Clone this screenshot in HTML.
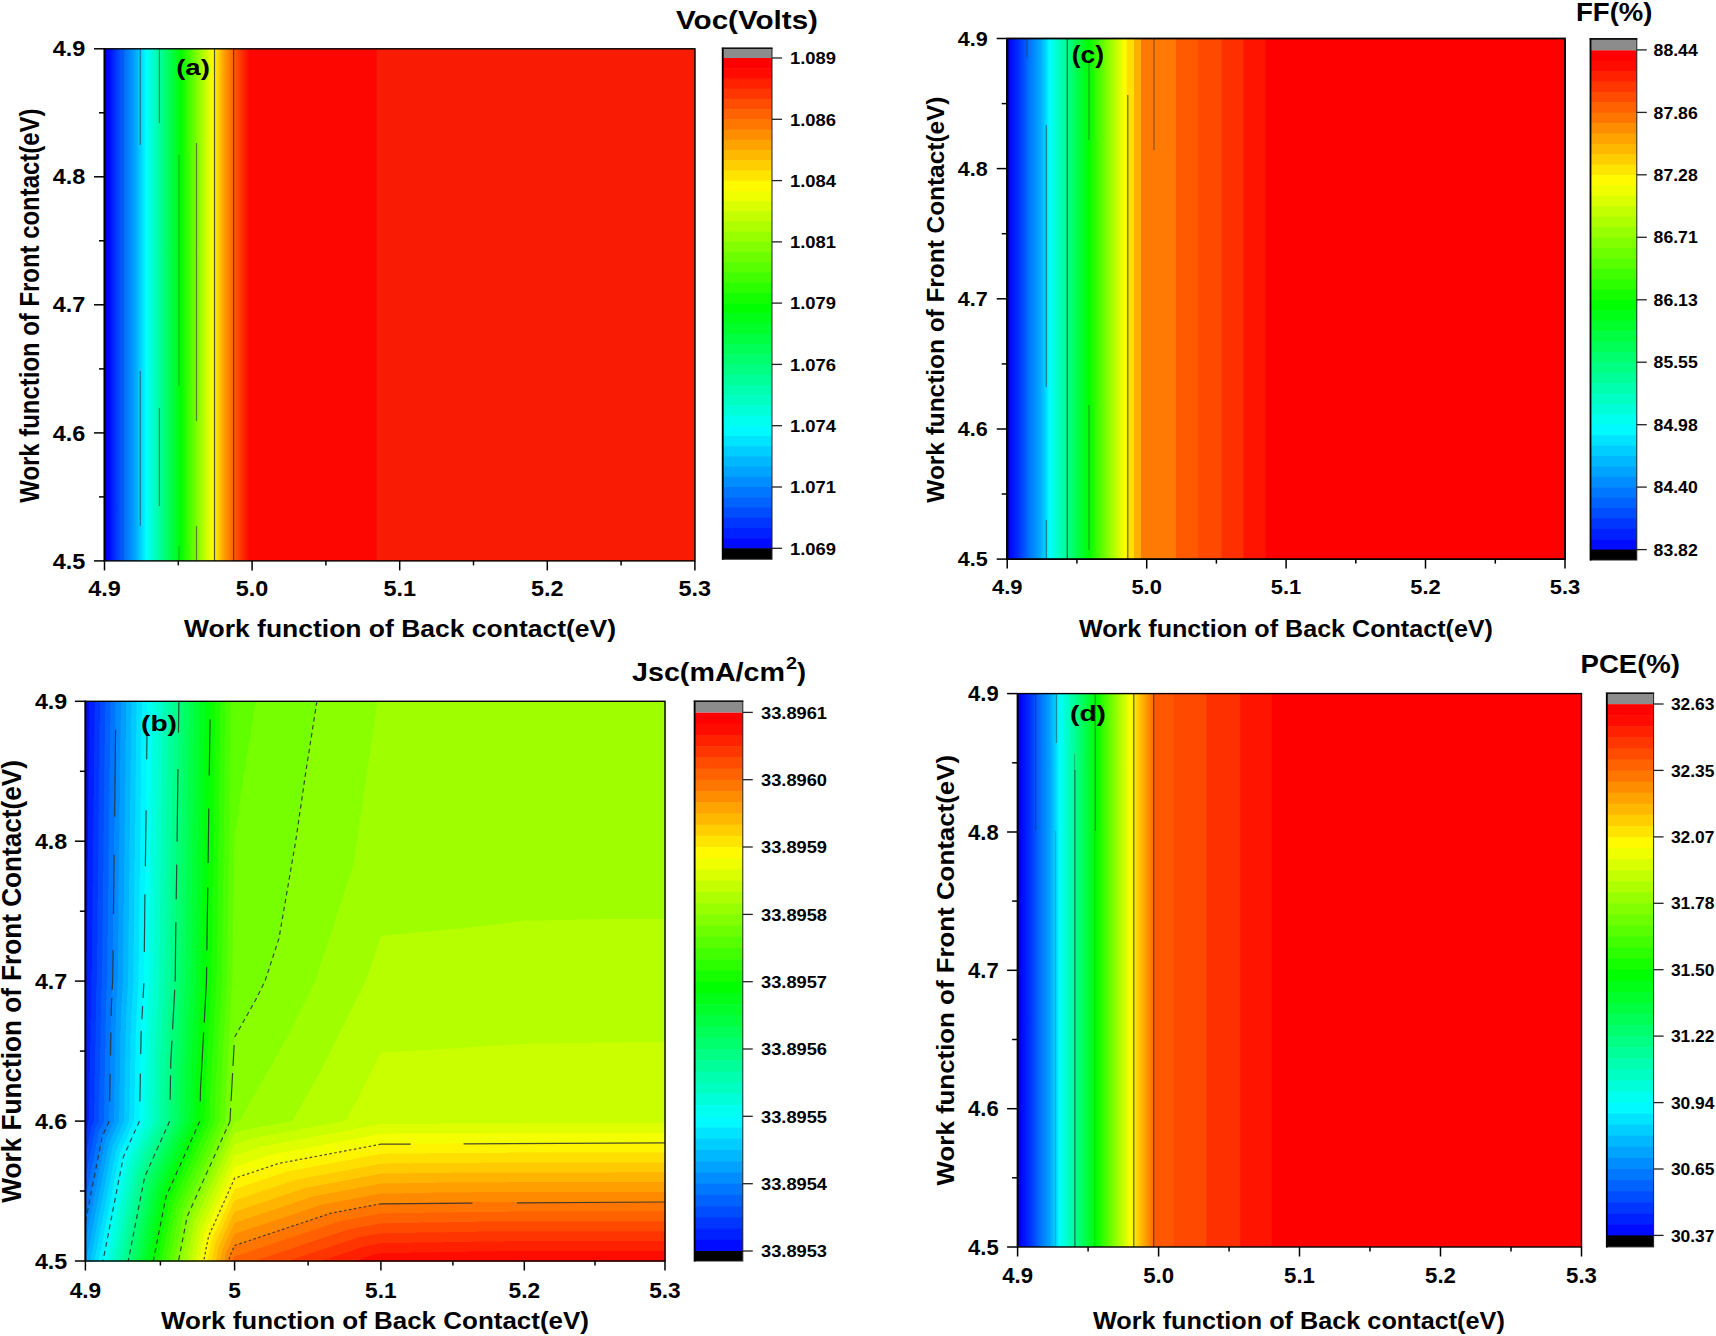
<!DOCTYPE html>
<html><head><meta charset="utf-8"><title>Contour plots</title>
<style>html,body{margin:0;padding:0;background:#fff;}svg{display:block}text{font-family:"Liberation Sans", Arial, Helvetica, sans-serif;}</style></head>
<body><svg width="1716" height="1336" viewBox="0 0 1716 1336">
<defs><linearGradient id="g1" gradientUnits="userSpaceOnUse" x1="104.5" y1="0" x2="694.9" y2="0"><stop offset="0.0000" stop-color="#0000f8"/><stop offset="0.0059" stop-color="#0000ff"/><stop offset="0.0178" stop-color="#0030ff"/><stop offset="0.0347" stop-color="#0070ff"/><stop offset="0.0517" stop-color="#00a4ff"/><stop offset="0.0635" stop-color="#00dcff"/><stop offset="0.0711" stop-color="#00ffff"/><stop offset="0.1296" stop-color="#00ff00"/><stop offset="0.1838" stop-color="#ffff00"/><stop offset="0.2024" stop-color="#ffa000"/><stop offset="0.2227" stop-color="#ff5000"/><stop offset="0.2414" stop-color="#fd1400"/><stop offset="0.2464" stop-color="#fd0500"/><stop offset="1.0000" stop-color="#fd0500"/></linearGradient><linearGradient id="g2" gradientUnits="userSpaceOnUse" x1="1007.2" y1="0" x2="1565.0" y2="0"><stop offset="0.0000" stop-color="#0000f8"/><stop offset="0.0032" stop-color="#0000ff"/><stop offset="0.0229" stop-color="#0038ff"/><stop offset="0.0409" stop-color="#0078ff"/><stop offset="0.0588" stop-color="#00a8ff"/><stop offset="0.0696" stop-color="#00d8ff"/><stop offset="0.0758" stop-color="#00ffff"/><stop offset="0.1466" stop-color="#00ff00"/><stop offset="0.2108" stop-color="#ffff00"/><stop offset="0.2148" stop-color="#fff000"/><stop offset="1.0000" stop-color="#ff0000"/></linearGradient><linearGradient id="g3" gradientUnits="userSpaceOnUse" x1="1017.6" y1="0" x2="1581.5" y2="0"><stop offset="0.0000" stop-color="#0000f8"/><stop offset="0.0041" stop-color="#0000ff"/><stop offset="0.0220" stop-color="#0030ff"/><stop offset="0.0397" stop-color="#0070ff"/><stop offset="0.0575" stop-color="#00a4ff"/><stop offset="0.0681" stop-color="#00d8ff"/><stop offset="0.0743" stop-color="#00ffff"/><stop offset="0.1394" stop-color="#00ff00"/><stop offset="0.2009" stop-color="#ffff00"/><stop offset="0.2307" stop-color="#ff9000"/><stop offset="0.2414" stop-color="#ff6a00"/><stop offset="1.0000" stop-color="#ff0000"/></linearGradient></defs>
<rect width="1716" height="1336" fill="#fff"/>
<rect x="104.5" y="48.8" width="590.4" height="512.1" fill="url(#g1)"/>
<rect x="376.6" y="48.8" width="318.8" height="512.1" fill="#f91b03"/>
<line x1="123.2" y1="48.8" x2="123.2" y2="560.9" stroke="#303840" stroke-width="1.2" stroke-opacity="0.22"/>
<line x1="140.3" y1="48.8" x2="140.3" y2="145.0" stroke="#303840" stroke-width="1.2" stroke-opacity="0.55"/>
<line x1="140.3" y1="371.0" x2="140.3" y2="526.0" stroke="#303840" stroke-width="1.2" stroke-opacity="0.55"/>
<line x1="159.4" y1="48.8" x2="159.4" y2="123.0" stroke="#303840" stroke-width="1.2" stroke-opacity="0.55"/>
<line x1="159.4" y1="408.0" x2="159.4" y2="506.0" stroke="#303840" stroke-width="1.2" stroke-opacity="0.55"/>
<line x1="179.0" y1="155.0" x2="179.0" y2="386.0" stroke="#303840" stroke-width="1.2" stroke-opacity="0.3"/>
<line x1="179.0" y1="546.0" x2="179.0" y2="560.9" stroke="#303840" stroke-width="1.2" stroke-opacity="0.3"/>
<line x1="196.5" y1="143.0" x2="196.5" y2="421.0" stroke="#303840" stroke-width="1.2" stroke-opacity="0.6"/>
<line x1="196.5" y1="526.0" x2="196.5" y2="560.9" stroke="#303840" stroke-width="1.2" stroke-opacity="0.6"/>
<line x1="214.5" y1="48.8" x2="214.5" y2="560.9" stroke="#303840" stroke-width="1.2" stroke-opacity="0.85"/>
<line x1="233.6" y1="48.8" x2="233.6" y2="560.9" stroke="#303840" stroke-width="1.2" stroke-opacity="0.85"/>
<rect x="104.5" y="48.8" width="590.4" height="512.1" fill="none" stroke="#000" stroke-width="1.4"/>
<line x1="104.5" y1="48.3" x2="104.5" y2="561.4" stroke="#000" stroke-width="1.7999999999999998"/>
<line x1="104.5" y1="560.9" x2="104.5" y2="570.4" stroke="#000" stroke-width="1.5"/>
<line x1="252.1" y1="560.9" x2="252.1" y2="570.4" stroke="#000" stroke-width="1.5"/>
<line x1="399.7" y1="560.9" x2="399.7" y2="570.4" stroke="#000" stroke-width="1.5"/>
<line x1="547.3" y1="560.9" x2="547.3" y2="570.4" stroke="#000" stroke-width="1.5"/>
<line x1="694.9" y1="560.9" x2="694.9" y2="570.4" stroke="#000" stroke-width="1.5"/>
<line x1="178.3" y1="560.9" x2="178.3" y2="565.4" stroke="#000" stroke-width="1.5"/>
<line x1="325.9" y1="560.9" x2="325.9" y2="565.4" stroke="#000" stroke-width="1.5"/>
<line x1="473.5" y1="560.9" x2="473.5" y2="565.4" stroke="#000" stroke-width="1.5"/>
<line x1="621.1" y1="560.9" x2="621.1" y2="565.4" stroke="#000" stroke-width="1.5"/>
<line x1="94.0" y1="560.9" x2="104.5" y2="560.9" stroke="#000" stroke-width="1.5"/>
<line x1="94.0" y1="432.9" x2="104.5" y2="432.9" stroke="#000" stroke-width="1.5"/>
<line x1="94.0" y1="304.8" x2="104.5" y2="304.8" stroke="#000" stroke-width="1.5"/>
<line x1="94.0" y1="176.8" x2="104.5" y2="176.8" stroke="#000" stroke-width="1.5"/>
<line x1="94.0" y1="48.8" x2="104.5" y2="48.8" stroke="#000" stroke-width="1.5"/>
<line x1="99.0" y1="496.9" x2="104.5" y2="496.9" stroke="#000" stroke-width="1.5"/>
<line x1="99.0" y1="368.9" x2="104.5" y2="368.9" stroke="#000" stroke-width="1.5"/>
<line x1="99.0" y1="240.8" x2="104.5" y2="240.8" stroke="#000" stroke-width="1.5"/>
<line x1="99.0" y1="112.8" x2="104.5" y2="112.8" stroke="#000" stroke-width="1.5"/>
<text x="88.2" y="595.5" font-size="22" font-weight="bold" textLength="32.5" lengthAdjust="spacingAndGlyphs" fill="#000">4.9</text>
<text x="235.8" y="595.5" font-size="22" font-weight="bold" textLength="32.5" lengthAdjust="spacingAndGlyphs" fill="#000">5.0</text>
<text x="383.4" y="595.5" font-size="22" font-weight="bold" textLength="32.5" lengthAdjust="spacingAndGlyphs" fill="#000">5.1</text>
<text x="531.0" y="595.5" font-size="22" font-weight="bold" textLength="32.5" lengthAdjust="spacingAndGlyphs" fill="#000">5.2</text>
<text x="678.6" y="595.5" font-size="22" font-weight="bold" textLength="32.5" lengthAdjust="spacingAndGlyphs" fill="#000">5.3</text>
<text x="52.8" y="568.5" font-size="22" font-weight="bold" textLength="32.6" lengthAdjust="spacingAndGlyphs" fill="#000">4.5</text>
<text x="52.8" y="440.5" font-size="22" font-weight="bold" textLength="32.6" lengthAdjust="spacingAndGlyphs" fill="#000">4.6</text>
<text x="52.8" y="312.4" font-size="22" font-weight="bold" textLength="32.6" lengthAdjust="spacingAndGlyphs" fill="#000">4.7</text>
<text x="52.8" y="184.4" font-size="22" font-weight="bold" textLength="32.6" lengthAdjust="spacingAndGlyphs" fill="#000">4.8</text>
<text x="52.8" y="56.4" font-size="22" font-weight="bold" textLength="32.6" lengthAdjust="spacingAndGlyphs" fill="#000">4.9</text>
<text x="184.0" y="636.5" font-size="23" font-weight="bold" textLength="432.0" lengthAdjust="spacingAndGlyphs" fill="#000">Work function of Back contact(eV)</text>
<text transform="translate(38.8,502.7) rotate(-90)" font-size="27" font-weight="bold" textLength="394.1" lengthAdjust="spacingAndGlyphs">Work function of Front contact(eV)</text>
<text x="176.2" y="75.0" font-size="22.5" font-weight="bold" textLength="33.6" lengthAdjust="spacingAndGlyphs" fill="#000">(a)</text>
<text x="676.0" y="29.2" font-size="26.4" font-weight="bold" textLength="142.0" lengthAdjust="spacingAndGlyphs" fill="#000">Voc(Volts)</text>
<rect x="722.7" y="58.00" width="49.3" height="10.81" fill="#ff0000"/>
<rect x="722.7" y="68.21" width="49.3" height="10.81" fill="#ff0b00"/>
<rect x="722.7" y="78.43" width="49.3" height="10.81" fill="#ff2100"/>
<rect x="722.7" y="88.64" width="49.3" height="10.81" fill="#ff3600"/>
<rect x="722.7" y="98.86" width="49.3" height="10.81" fill="#ff4c00"/>
<rect x="722.7" y="109.07" width="49.3" height="10.81" fill="#ff6200"/>
<rect x="722.7" y="119.29" width="49.3" height="10.81" fill="#ff7700"/>
<rect x="722.7" y="129.50" width="49.3" height="10.81" fill="#ff8d00"/>
<rect x="722.7" y="139.72" width="49.3" height="10.81" fill="#ffa300"/>
<rect x="722.7" y="149.93" width="49.3" height="10.81" fill="#ffb800"/>
<rect x="722.7" y="160.15" width="49.3" height="10.81" fill="#ffce00"/>
<rect x="722.7" y="170.36" width="49.3" height="10.81" fill="#ffe400"/>
<rect x="722.7" y="180.57" width="49.3" height="10.81" fill="#fffa00"/>
<rect x="722.7" y="190.79" width="49.3" height="10.81" fill="#efff00"/>
<rect x="722.7" y="201.00" width="49.3" height="10.81" fill="#d9ff00"/>
<rect x="722.7" y="211.22" width="49.3" height="10.81" fill="#c3ff00"/>
<rect x="722.7" y="221.43" width="49.3" height="10.81" fill="#aeff00"/>
<rect x="722.7" y="231.65" width="49.3" height="10.81" fill="#98ff00"/>
<rect x="722.7" y="241.86" width="49.3" height="10.81" fill="#82ff00"/>
<rect x="722.7" y="252.08" width="49.3" height="10.81" fill="#6dff00"/>
<rect x="722.7" y="262.29" width="49.3" height="10.81" fill="#57ff00"/>
<rect x="722.7" y="272.51" width="49.3" height="10.81" fill="#41ff00"/>
<rect x="722.7" y="282.72" width="49.3" height="10.81" fill="#2bff00"/>
<rect x="722.7" y="292.94" width="49.3" height="10.81" fill="#16ff00"/>
<rect x="722.7" y="303.15" width="49.3" height="10.81" fill="#00ff00"/>
<rect x="722.7" y="313.36" width="49.3" height="10.81" fill="#00ff16"/>
<rect x="722.7" y="323.58" width="49.3" height="10.81" fill="#00ff2b"/>
<rect x="722.7" y="333.79" width="49.3" height="10.81" fill="#00ff41"/>
<rect x="722.7" y="344.01" width="49.3" height="10.81" fill="#00ff57"/>
<rect x="722.7" y="354.22" width="49.3" height="10.81" fill="#00ff6d"/>
<rect x="722.7" y="364.44" width="49.3" height="10.81" fill="#00ff82"/>
<rect x="722.7" y="374.65" width="49.3" height="10.81" fill="#00ff98"/>
<rect x="722.7" y="384.87" width="49.3" height="10.81" fill="#00ffae"/>
<rect x="722.7" y="395.08" width="49.3" height="10.81" fill="#00ffc3"/>
<rect x="722.7" y="405.30" width="49.3" height="10.81" fill="#00ffd9"/>
<rect x="722.7" y="415.51" width="49.3" height="10.81" fill="#00ffef"/>
<rect x="722.7" y="425.72" width="49.3" height="10.81" fill="#00faff"/>
<rect x="722.7" y="435.94" width="49.3" height="10.81" fill="#00e4ff"/>
<rect x="722.7" y="446.15" width="49.3" height="10.81" fill="#00ceff"/>
<rect x="722.7" y="456.37" width="49.3" height="10.81" fill="#00b8ff"/>
<rect x="722.7" y="466.58" width="49.3" height="10.81" fill="#00a3ff"/>
<rect x="722.7" y="476.80" width="49.3" height="10.81" fill="#008dff"/>
<rect x="722.7" y="487.01" width="49.3" height="10.81" fill="#0077ff"/>
<rect x="722.7" y="497.23" width="49.3" height="10.81" fill="#0062ff"/>
<rect x="722.7" y="507.44" width="49.3" height="10.81" fill="#004cff"/>
<rect x="722.7" y="517.66" width="49.3" height="10.81" fill="#0036ff"/>
<rect x="722.7" y="527.87" width="49.3" height="10.81" fill="#0021ff"/>
<rect x="722.7" y="538.09" width="49.3" height="10.81" fill="#000bff"/>
<rect x="722.7" y="48.3" width="49.3" height="9.7" fill="#8c8c8c"/>
<rect x="722.7" y="548.3" width="49.3" height="10.9" fill="#000"/>
<rect x="722.7" y="48.3" width="49.3" height="510.9" fill="none" stroke="#222" stroke-width="1"/>
<line x1="722.7" y1="47.8" x2="722.7" y2="559.7" stroke="#000" stroke-width="1.8"/>
<line x1="721.8" y1="48.3" x2="772.5" y2="48.3" stroke="#111" stroke-width="1.6"/>
<line x1="772.0" y1="58.0" x2="782.0" y2="58.0" stroke="#222" stroke-width="1.3"/>
<text x="790.0" y="64.3" font-size="16.5" font-weight="bold" textLength="46.0" lengthAdjust="spacingAndGlyphs" fill="#000">1.089</text>
<line x1="772.0" y1="119.3" x2="782.0" y2="119.3" stroke="#222" stroke-width="1.3"/>
<text x="790.0" y="125.6" font-size="16.5" font-weight="bold" textLength="46.0" lengthAdjust="spacingAndGlyphs" fill="#000">1.086</text>
<line x1="772.0" y1="180.6" x2="782.0" y2="180.6" stroke="#222" stroke-width="1.3"/>
<text x="790.0" y="186.9" font-size="16.5" font-weight="bold" textLength="46.0" lengthAdjust="spacingAndGlyphs" fill="#000">1.084</text>
<line x1="772.0" y1="241.9" x2="782.0" y2="241.9" stroke="#222" stroke-width="1.3"/>
<text x="790.0" y="248.2" font-size="16.5" font-weight="bold" textLength="46.0" lengthAdjust="spacingAndGlyphs" fill="#000">1.081</text>
<line x1="772.0" y1="303.1" x2="782.0" y2="303.1" stroke="#222" stroke-width="1.3"/>
<text x="790.0" y="309.4" font-size="16.5" font-weight="bold" textLength="46.0" lengthAdjust="spacingAndGlyphs" fill="#000">1.079</text>
<line x1="772.0" y1="364.4" x2="782.0" y2="364.4" stroke="#222" stroke-width="1.3"/>
<text x="790.0" y="370.7" font-size="16.5" font-weight="bold" textLength="46.0" lengthAdjust="spacingAndGlyphs" fill="#000">1.076</text>
<line x1="772.0" y1="425.7" x2="782.0" y2="425.7" stroke="#222" stroke-width="1.3"/>
<text x="790.0" y="432.0" font-size="16.5" font-weight="bold" textLength="46.0" lengthAdjust="spacingAndGlyphs" fill="#000">1.074</text>
<line x1="772.0" y1="487.0" x2="782.0" y2="487.0" stroke="#222" stroke-width="1.3"/>
<text x="790.0" y="493.3" font-size="16.5" font-weight="bold" textLength="46.0" lengthAdjust="spacingAndGlyphs" fill="#000">1.071</text>
<line x1="772.0" y1="548.3" x2="782.0" y2="548.3" stroke="#222" stroke-width="1.3"/>
<text x="790.0" y="554.6" font-size="16.5" font-weight="bold" textLength="46.0" lengthAdjust="spacingAndGlyphs" fill="#000">1.069</text>
<rect x="1007.2" y="38.5" width="557.8" height="520.6" fill="url(#g2)"/>
<rect x="1127.0" y="38.5" width="7.5" height="520.6" fill="#ffe000"/>
<rect x="1134.0" y="38.5" width="7.5" height="520.6" fill="#ffb000"/>
<rect x="1141.0" y="38.5" width="35.5" height="520.6" fill="#ff7a05"/>
<rect x="1176.0" y="38.5" width="22.5" height="520.6" fill="#ff5a00"/>
<rect x="1198.0" y="38.5" width="23.9" height="520.6" fill="#ff4800"/>
<rect x="1221.4" y="38.5" width="22.6" height="520.6" fill="#ff3000"/>
<rect x="1243.5" y="38.5" width="22.7" height="520.6" fill="#ff1400"/>
<rect x="1265.7" y="38.5" width="299.8" height="520.6" fill="#fe0000"/>
<line x1="1027.0" y1="38.5" x2="1027.0" y2="57.0" stroke="#303840" stroke-width="1.2" stroke-opacity="0.5"/>
<line x1="1046.3" y1="125.0" x2="1046.3" y2="387.0" stroke="#303840" stroke-width="1.2" stroke-opacity="0.6"/>
<line x1="1046.3" y1="520.0" x2="1046.3" y2="559.1" stroke="#303840" stroke-width="1.2" stroke-opacity="0.6"/>
<line x1="1067.3" y1="38.5" x2="1067.3" y2="559.1" stroke="#303840" stroke-width="1.2" stroke-opacity="0.8"/>
<line x1="1089.0" y1="60.0" x2="1089.0" y2="140.0" stroke="#303840" stroke-width="1.2" stroke-opacity="0.4"/>
<line x1="1089.0" y1="405.0" x2="1089.0" y2="550.0" stroke="#303840" stroke-width="1.2" stroke-opacity="0.4"/>
<line x1="1127.8" y1="95.0" x2="1127.8" y2="559.1" stroke="#303840" stroke-width="1.2" stroke-opacity="0.7"/>
<line x1="1154.0" y1="38.5" x2="1154.0" y2="150.0" stroke="#303840" stroke-width="1.2" stroke-opacity="0.6"/>
<rect x="1007.2" y="38.5" width="557.8" height="520.6" fill="none" stroke="#000" stroke-width="1.8"/>
<line x1="1007.2" y1="38.0" x2="1007.2" y2="559.6" stroke="#000" stroke-width="2.2"/>
<line x1="1007.2" y1="559.1" x2="1007.2" y2="568.6" stroke="#000" stroke-width="1.5"/>
<line x1="1146.7" y1="559.1" x2="1146.7" y2="568.6" stroke="#000" stroke-width="1.5"/>
<line x1="1286.1" y1="559.1" x2="1286.1" y2="568.6" stroke="#000" stroke-width="1.5"/>
<line x1="1425.5" y1="559.1" x2="1425.5" y2="568.6" stroke="#000" stroke-width="1.5"/>
<line x1="1565.0" y1="559.1" x2="1565.0" y2="568.6" stroke="#000" stroke-width="1.5"/>
<line x1="1076.9" y1="559.1" x2="1076.9" y2="563.6" stroke="#000" stroke-width="1.5"/>
<line x1="1216.4" y1="559.1" x2="1216.4" y2="563.6" stroke="#000" stroke-width="1.5"/>
<line x1="1355.8" y1="559.1" x2="1355.8" y2="563.6" stroke="#000" stroke-width="1.5"/>
<line x1="1495.3" y1="559.1" x2="1495.3" y2="563.6" stroke="#000" stroke-width="1.5"/>
<line x1="996.7" y1="559.1" x2="1007.2" y2="559.1" stroke="#000" stroke-width="1.5"/>
<line x1="996.7" y1="429.0" x2="1007.2" y2="429.0" stroke="#000" stroke-width="1.5"/>
<line x1="996.7" y1="298.8" x2="1007.2" y2="298.8" stroke="#000" stroke-width="1.5"/>
<line x1="996.7" y1="168.6" x2="1007.2" y2="168.6" stroke="#000" stroke-width="1.5"/>
<line x1="996.7" y1="38.5" x2="1007.2" y2="38.5" stroke="#000" stroke-width="1.5"/>
<line x1="1001.7" y1="494.0" x2="1007.2" y2="494.0" stroke="#000" stroke-width="1.5"/>
<line x1="1001.7" y1="363.9" x2="1007.2" y2="363.9" stroke="#000" stroke-width="1.5"/>
<line x1="1001.7" y1="233.7" x2="1007.2" y2="233.7" stroke="#000" stroke-width="1.5"/>
<line x1="1001.7" y1="103.6" x2="1007.2" y2="103.6" stroke="#000" stroke-width="1.5"/>
<text x="992.0" y="594.0" font-size="21" font-weight="bold" textLength="30.5" lengthAdjust="spacingAndGlyphs" fill="#000">4.9</text>
<text x="1131.4" y="594.0" font-size="21" font-weight="bold" textLength="30.5" lengthAdjust="spacingAndGlyphs" fill="#000">5.0</text>
<text x="1270.8" y="594.0" font-size="21" font-weight="bold" textLength="30.5" lengthAdjust="spacingAndGlyphs" fill="#000">5.1</text>
<text x="1410.3" y="594.0" font-size="21" font-weight="bold" textLength="30.5" lengthAdjust="spacingAndGlyphs" fill="#000">5.2</text>
<text x="1549.8" y="594.0" font-size="21" font-weight="bold" textLength="30.5" lengthAdjust="spacingAndGlyphs" fill="#000">5.3</text>
<text x="957.8" y="566.4" font-size="21" font-weight="bold" textLength="30.0" lengthAdjust="spacingAndGlyphs" fill="#000">4.5</text>
<text x="957.8" y="436.3" font-size="21" font-weight="bold" textLength="30.0" lengthAdjust="spacingAndGlyphs" fill="#000">4.6</text>
<text x="957.8" y="306.1" font-size="21" font-weight="bold" textLength="30.0" lengthAdjust="spacingAndGlyphs" fill="#000">4.7</text>
<text x="957.8" y="175.9" font-size="21" font-weight="bold" textLength="30.0" lengthAdjust="spacingAndGlyphs" fill="#000">4.8</text>
<text x="957.8" y="45.8" font-size="21" font-weight="bold" textLength="30.0" lengthAdjust="spacingAndGlyphs" fill="#000">4.9</text>
<text x="1079.0" y="637.0" font-size="23" font-weight="bold" textLength="414.0" lengthAdjust="spacingAndGlyphs" fill="#000">Work function of Back Contact(eV)</text>
<text transform="translate(943.8,502.7) rotate(-90)" font-size="24.3" font-weight="bold" textLength="406.2" lengthAdjust="spacingAndGlyphs">Work function of Front Contact(eV)</text>
<text x="1071.8" y="63.3" font-size="23" font-weight="bold" textLength="32.2" lengthAdjust="spacingAndGlyphs" fill="#000">(c)</text>
<text x="1576.0" y="20.7" font-size="26" font-weight="bold" textLength="76.5" lengthAdjust="spacingAndGlyphs" fill="#000">FF(%)</text>
<rect x="1590.5" y="50.20" width="46.3" height="11.00" fill="#ff0000"/>
<rect x="1590.5" y="60.60" width="46.3" height="11.00" fill="#ff0b00"/>
<rect x="1590.5" y="71.01" width="46.3" height="11.00" fill="#ff2100"/>
<rect x="1590.5" y="81.41" width="46.3" height="11.00" fill="#ff3600"/>
<rect x="1590.5" y="91.82" width="46.3" height="11.00" fill="#ff4c00"/>
<rect x="1590.5" y="102.22" width="46.3" height="11.00" fill="#ff6200"/>
<rect x="1590.5" y="112.62" width="46.3" height="11.00" fill="#ff7700"/>
<rect x="1590.5" y="123.03" width="46.3" height="11.00" fill="#ff8d00"/>
<rect x="1590.5" y="133.43" width="46.3" height="11.00" fill="#ffa300"/>
<rect x="1590.5" y="143.84" width="46.3" height="11.00" fill="#ffb800"/>
<rect x="1590.5" y="154.24" width="46.3" height="11.00" fill="#ffce00"/>
<rect x="1590.5" y="164.65" width="46.3" height="11.00" fill="#ffe400"/>
<rect x="1590.5" y="175.05" width="46.3" height="11.00" fill="#fffa00"/>
<rect x="1590.5" y="185.45" width="46.3" height="11.00" fill="#efff00"/>
<rect x="1590.5" y="195.86" width="46.3" height="11.00" fill="#d9ff00"/>
<rect x="1590.5" y="206.26" width="46.3" height="11.00" fill="#c3ff00"/>
<rect x="1590.5" y="216.67" width="46.3" height="11.00" fill="#aeff00"/>
<rect x="1590.5" y="227.07" width="46.3" height="11.00" fill="#98ff00"/>
<rect x="1590.5" y="237.48" width="46.3" height="11.00" fill="#82ff00"/>
<rect x="1590.5" y="247.88" width="46.3" height="11.00" fill="#6dff00"/>
<rect x="1590.5" y="258.28" width="46.3" height="11.00" fill="#57ff00"/>
<rect x="1590.5" y="268.69" width="46.3" height="11.00" fill="#41ff00"/>
<rect x="1590.5" y="279.09" width="46.3" height="11.00" fill="#2bff00"/>
<rect x="1590.5" y="289.50" width="46.3" height="11.00" fill="#16ff00"/>
<rect x="1590.5" y="299.90" width="46.3" height="11.00" fill="#00ff00"/>
<rect x="1590.5" y="310.30" width="46.3" height="11.00" fill="#00ff16"/>
<rect x="1590.5" y="320.71" width="46.3" height="11.00" fill="#00ff2b"/>
<rect x="1590.5" y="331.11" width="46.3" height="11.00" fill="#00ff41"/>
<rect x="1590.5" y="341.52" width="46.3" height="11.00" fill="#00ff57"/>
<rect x="1590.5" y="351.92" width="46.3" height="11.00" fill="#00ff6d"/>
<rect x="1590.5" y="362.32" width="46.3" height="11.00" fill="#00ff82"/>
<rect x="1590.5" y="372.73" width="46.3" height="11.00" fill="#00ff98"/>
<rect x="1590.5" y="383.13" width="46.3" height="11.00" fill="#00ffae"/>
<rect x="1590.5" y="393.54" width="46.3" height="11.00" fill="#00ffc3"/>
<rect x="1590.5" y="403.94" width="46.3" height="11.00" fill="#00ffd9"/>
<rect x="1590.5" y="414.35" width="46.3" height="11.00" fill="#00ffef"/>
<rect x="1590.5" y="424.75" width="46.3" height="11.00" fill="#00faff"/>
<rect x="1590.5" y="435.15" width="46.3" height="11.00" fill="#00e4ff"/>
<rect x="1590.5" y="445.56" width="46.3" height="11.00" fill="#00ceff"/>
<rect x="1590.5" y="455.96" width="46.3" height="11.00" fill="#00b8ff"/>
<rect x="1590.5" y="466.37" width="46.3" height="11.00" fill="#00a3ff"/>
<rect x="1590.5" y="476.77" width="46.3" height="11.00" fill="#008dff"/>
<rect x="1590.5" y="487.18" width="46.3" height="11.00" fill="#0077ff"/>
<rect x="1590.5" y="497.58" width="46.3" height="11.00" fill="#0062ff"/>
<rect x="1590.5" y="507.98" width="46.3" height="11.00" fill="#004cff"/>
<rect x="1590.5" y="518.39" width="46.3" height="11.00" fill="#0036ff"/>
<rect x="1590.5" y="528.79" width="46.3" height="11.00" fill="#0021ff"/>
<rect x="1590.5" y="539.20" width="46.3" height="11.00" fill="#000bff"/>
<rect x="1590.5" y="38.9" width="46.3" height="11.3" fill="#8c8c8c"/>
<rect x="1590.5" y="549.6" width="46.3" height="10.4" fill="#000"/>
<rect x="1590.5" y="38.9" width="46.3" height="521.1" fill="none" stroke="#222" stroke-width="1"/>
<line x1="1590.5" y1="38.4" x2="1590.5" y2="560.5" stroke="#000" stroke-width="1.8"/>
<line x1="1589.6" y1="38.9" x2="1637.3" y2="38.9" stroke="#111" stroke-width="1.6"/>
<line x1="1636.8" y1="49.9" x2="1646.8" y2="49.9" stroke="#222" stroke-width="1.3"/>
<text x="1653.6" y="56.0" font-size="16.7" font-weight="bold" textLength="44.1" lengthAdjust="spacingAndGlyphs" fill="#000">88.44</text>
<line x1="1636.8" y1="112.4" x2="1646.8" y2="112.4" stroke="#222" stroke-width="1.3"/>
<text x="1653.6" y="118.5" font-size="16.7" font-weight="bold" textLength="44.1" lengthAdjust="spacingAndGlyphs" fill="#000">87.86</text>
<line x1="1636.8" y1="174.8" x2="1646.8" y2="174.8" stroke="#222" stroke-width="1.3"/>
<text x="1653.6" y="180.9" font-size="16.7" font-weight="bold" textLength="44.1" lengthAdjust="spacingAndGlyphs" fill="#000">87.28</text>
<line x1="1636.8" y1="237.3" x2="1646.8" y2="237.3" stroke="#222" stroke-width="1.3"/>
<text x="1653.6" y="243.4" font-size="16.7" font-weight="bold" textLength="44.1" lengthAdjust="spacingAndGlyphs" fill="#000">86.71</text>
<line x1="1636.8" y1="299.8" x2="1646.8" y2="299.8" stroke="#222" stroke-width="1.3"/>
<text x="1653.6" y="305.9" font-size="16.7" font-weight="bold" textLength="44.1" lengthAdjust="spacingAndGlyphs" fill="#000">86.13</text>
<line x1="1636.8" y1="362.2" x2="1646.8" y2="362.2" stroke="#222" stroke-width="1.3"/>
<text x="1653.6" y="368.3" font-size="16.7" font-weight="bold" textLength="44.1" lengthAdjust="spacingAndGlyphs" fill="#000">85.55</text>
<line x1="1636.8" y1="424.7" x2="1646.8" y2="424.7" stroke="#222" stroke-width="1.3"/>
<text x="1653.6" y="430.8" font-size="16.7" font-weight="bold" textLength="44.1" lengthAdjust="spacingAndGlyphs" fill="#000">84.98</text>
<line x1="1636.8" y1="487.1" x2="1646.8" y2="487.1" stroke="#222" stroke-width="1.3"/>
<text x="1653.6" y="493.2" font-size="16.7" font-weight="bold" textLength="44.1" lengthAdjust="spacingAndGlyphs" fill="#000">84.40</text>
<line x1="1636.8" y1="549.6" x2="1646.8" y2="549.6" stroke="#222" stroke-width="1.3"/>
<text x="1653.6" y="555.7" font-size="16.7" font-weight="bold" textLength="44.1" lengthAdjust="spacingAndGlyphs" fill="#000">83.82</text>
<rect x="1017.6" y="693.6" width="563.9" height="553.4" fill="url(#g3)"/>
<rect x="1153.8" y="693.6" width="20.5" height="553.4" fill="#ff5800"/>
<rect x="1173.8" y="693.6" width="33.1" height="553.4" fill="#ff4800"/>
<rect x="1206.4" y="693.6" width="34.3" height="553.4" fill="#ff3000"/>
<rect x="1240.2" y="693.6" width="32.0" height="553.4" fill="#ff1400"/>
<rect x="1271.7" y="693.6" width="310.3" height="553.4" fill="#fe0000"/>
<line x1="1035.6" y1="693.6" x2="1035.6" y2="831.0" stroke="#303840" stroke-width="1.2" stroke-opacity="0.6"/>
<line x1="1056.4" y1="693.6" x2="1056.4" y2="743.0" stroke="#303840" stroke-width="1.2" stroke-opacity="0.5"/>
<line x1="1074.9" y1="770.0" x2="1074.9" y2="1247.0" stroke="#303840" stroke-width="1.2" stroke-opacity="0.8"/>
<line x1="1095.2" y1="693.6" x2="1095.2" y2="831.0" stroke="#303840" stroke-width="1.2" stroke-opacity="0.5"/>
<line x1="1055.5" y1="831.0" x2="1055.5" y2="1247.0" stroke="#303840" stroke-width="1.2" stroke-opacity="0.2"/>
<line x1="1094.8" y1="831.0" x2="1094.8" y2="1247.0" stroke="#303840" stroke-width="1.2" stroke-opacity="0.2"/>
<line x1="1074.6" y1="754.0" x2="1074.6" y2="771.0" stroke="#303840" stroke-width="1.2" stroke-opacity="0.3"/>
<line x1="1133.8" y1="693.6" x2="1133.8" y2="1247.0" stroke="#303840" stroke-width="1.2" stroke-opacity="0.8"/>
<line x1="1153.7" y1="693.6" x2="1153.7" y2="1247.0" stroke="#303840" stroke-width="1.2" stroke-opacity="0.8"/>
<rect x="1017.6" y="693.6" width="563.9" height="553.4" fill="none" stroke="#000" stroke-width="1.4"/>
<line x1="1017.6" y1="693.1" x2="1017.6" y2="1247.5" stroke="#000" stroke-width="1.7999999999999998"/>
<line x1="1017.6" y1="1247.0" x2="1017.6" y2="1256.5" stroke="#000" stroke-width="1.5"/>
<line x1="1158.6" y1="1247.0" x2="1158.6" y2="1256.5" stroke="#000" stroke-width="1.5"/>
<line x1="1299.5" y1="1247.0" x2="1299.5" y2="1256.5" stroke="#000" stroke-width="1.5"/>
<line x1="1440.5" y1="1247.0" x2="1440.5" y2="1256.5" stroke="#000" stroke-width="1.5"/>
<line x1="1581.5" y1="1247.0" x2="1581.5" y2="1256.5" stroke="#000" stroke-width="1.5"/>
<line x1="1088.1" y1="1247.0" x2="1088.1" y2="1251.5" stroke="#000" stroke-width="1.5"/>
<line x1="1229.1" y1="1247.0" x2="1229.1" y2="1251.5" stroke="#000" stroke-width="1.5"/>
<line x1="1370.0" y1="1247.0" x2="1370.0" y2="1251.5" stroke="#000" stroke-width="1.5"/>
<line x1="1511.0" y1="1247.0" x2="1511.0" y2="1251.5" stroke="#000" stroke-width="1.5"/>
<line x1="1007.1" y1="1247.0" x2="1017.6" y2="1247.0" stroke="#000" stroke-width="1.5"/>
<line x1="1007.1" y1="1108.7" x2="1017.6" y2="1108.7" stroke="#000" stroke-width="1.5"/>
<line x1="1007.1" y1="970.3" x2="1017.6" y2="970.3" stroke="#000" stroke-width="1.5"/>
<line x1="1007.1" y1="832.0" x2="1017.6" y2="832.0" stroke="#000" stroke-width="1.5"/>
<line x1="1007.1" y1="693.6" x2="1017.6" y2="693.6" stroke="#000" stroke-width="1.5"/>
<line x1="1012.1" y1="1177.8" x2="1017.6" y2="1177.8" stroke="#000" stroke-width="1.5"/>
<line x1="1012.1" y1="1039.5" x2="1017.6" y2="1039.5" stroke="#000" stroke-width="1.5"/>
<line x1="1012.1" y1="901.1" x2="1017.6" y2="901.1" stroke="#000" stroke-width="1.5"/>
<line x1="1012.1" y1="762.8" x2="1017.6" y2="762.8" stroke="#000" stroke-width="1.5"/>
<text x="1002.2" y="1282.6" font-size="21.7" font-weight="bold" textLength="30.8" lengthAdjust="spacingAndGlyphs" fill="#000">4.9</text>
<text x="1143.2" y="1282.6" font-size="21.7" font-weight="bold" textLength="30.8" lengthAdjust="spacingAndGlyphs" fill="#000">5.0</text>
<text x="1284.1" y="1282.6" font-size="21.7" font-weight="bold" textLength="30.8" lengthAdjust="spacingAndGlyphs" fill="#000">5.1</text>
<text x="1425.1" y="1282.6" font-size="21.7" font-weight="bold" textLength="30.8" lengthAdjust="spacingAndGlyphs" fill="#000">5.2</text>
<text x="1566.1" y="1282.6" font-size="21.7" font-weight="bold" textLength="30.8" lengthAdjust="spacingAndGlyphs" fill="#000">5.3</text>
<text x="968.1" y="1254.5" font-size="21.7" font-weight="bold" textLength="30.6" lengthAdjust="spacingAndGlyphs" fill="#000">4.5</text>
<text x="968.1" y="1116.2" font-size="21.7" font-weight="bold" textLength="30.6" lengthAdjust="spacingAndGlyphs" fill="#000">4.6</text>
<text x="968.1" y="977.8" font-size="21.7" font-weight="bold" textLength="30.6" lengthAdjust="spacingAndGlyphs" fill="#000">4.7</text>
<text x="968.1" y="839.5" font-size="21.7" font-weight="bold" textLength="30.6" lengthAdjust="spacingAndGlyphs" fill="#000">4.8</text>
<text x="968.1" y="701.1" font-size="21.7" font-weight="bold" textLength="30.6" lengthAdjust="spacingAndGlyphs" fill="#000">4.9</text>
<text x="1093.0" y="1328.5" font-size="23" font-weight="bold" textLength="411.8" lengthAdjust="spacingAndGlyphs" fill="#000">Work function of Back contact(eV)</text>
<text transform="translate(953.6,1185.4) rotate(-90)" font-size="24.7" font-weight="bold" textLength="430.4" lengthAdjust="spacingAndGlyphs">Work function of Front Contact(eV)</text>
<text x="1070.0" y="721.0" font-size="22" font-weight="bold" textLength="36.0" lengthAdjust="spacingAndGlyphs" fill="#000">(d)</text>
<text x="1580.5" y="672.7" font-size="26.2" font-weight="bold" textLength="99.5" lengthAdjust="spacingAndGlyphs" fill="#000">PCE(%)</text>
<rect x="1606.8" y="704.10" width="46.8" height="11.67" fill="#ff0000"/>
<rect x="1606.8" y="715.17" width="46.8" height="11.67" fill="#ff0b00"/>
<rect x="1606.8" y="726.24" width="46.8" height="11.67" fill="#ff2100"/>
<rect x="1606.8" y="737.31" width="46.8" height="11.67" fill="#ff3600"/>
<rect x="1606.8" y="748.38" width="46.8" height="11.67" fill="#ff4c00"/>
<rect x="1606.8" y="759.44" width="46.8" height="11.67" fill="#ff6200"/>
<rect x="1606.8" y="770.51" width="46.8" height="11.67" fill="#ff7700"/>
<rect x="1606.8" y="781.58" width="46.8" height="11.67" fill="#ff8d00"/>
<rect x="1606.8" y="792.65" width="46.8" height="11.67" fill="#ffa300"/>
<rect x="1606.8" y="803.72" width="46.8" height="11.67" fill="#ffb800"/>
<rect x="1606.8" y="814.79" width="46.8" height="11.67" fill="#ffce00"/>
<rect x="1606.8" y="825.86" width="46.8" height="11.67" fill="#ffe400"/>
<rect x="1606.8" y="836.93" width="46.8" height="11.67" fill="#fffa00"/>
<rect x="1606.8" y="847.99" width="46.8" height="11.67" fill="#efff00"/>
<rect x="1606.8" y="859.06" width="46.8" height="11.67" fill="#d9ff00"/>
<rect x="1606.8" y="870.13" width="46.8" height="11.67" fill="#c3ff00"/>
<rect x="1606.8" y="881.20" width="46.8" height="11.67" fill="#aeff00"/>
<rect x="1606.8" y="892.27" width="46.8" height="11.67" fill="#98ff00"/>
<rect x="1606.8" y="903.34" width="46.8" height="11.67" fill="#82ff00"/>
<rect x="1606.8" y="914.41" width="46.8" height="11.67" fill="#6dff00"/>
<rect x="1606.8" y="925.48" width="46.8" height="11.67" fill="#57ff00"/>
<rect x="1606.8" y="936.54" width="46.8" height="11.67" fill="#41ff00"/>
<rect x="1606.8" y="947.61" width="46.8" height="11.67" fill="#2bff00"/>
<rect x="1606.8" y="958.68" width="46.8" height="11.67" fill="#16ff00"/>
<rect x="1606.8" y="969.75" width="46.8" height="11.67" fill="#00ff00"/>
<rect x="1606.8" y="980.82" width="46.8" height="11.67" fill="#00ff16"/>
<rect x="1606.8" y="991.89" width="46.8" height="11.67" fill="#00ff2b"/>
<rect x="1606.8" y="1002.96" width="46.8" height="11.67" fill="#00ff41"/>
<rect x="1606.8" y="1014.03" width="46.8" height="11.67" fill="#00ff57"/>
<rect x="1606.8" y="1025.09" width="46.8" height="11.67" fill="#00ff6d"/>
<rect x="1606.8" y="1036.16" width="46.8" height="11.67" fill="#00ff82"/>
<rect x="1606.8" y="1047.23" width="46.8" height="11.67" fill="#00ff98"/>
<rect x="1606.8" y="1058.30" width="46.8" height="11.67" fill="#00ffae"/>
<rect x="1606.8" y="1069.37" width="46.8" height="11.67" fill="#00ffc3"/>
<rect x="1606.8" y="1080.44" width="46.8" height="11.67" fill="#00ffd9"/>
<rect x="1606.8" y="1091.51" width="46.8" height="11.67" fill="#00ffef"/>
<rect x="1606.8" y="1102.58" width="46.8" height="11.67" fill="#00faff"/>
<rect x="1606.8" y="1113.64" width="46.8" height="11.67" fill="#00e4ff"/>
<rect x="1606.8" y="1124.71" width="46.8" height="11.67" fill="#00ceff"/>
<rect x="1606.8" y="1135.78" width="46.8" height="11.67" fill="#00b8ff"/>
<rect x="1606.8" y="1146.85" width="46.8" height="11.67" fill="#00a3ff"/>
<rect x="1606.8" y="1157.92" width="46.8" height="11.67" fill="#008dff"/>
<rect x="1606.8" y="1168.99" width="46.8" height="11.67" fill="#0077ff"/>
<rect x="1606.8" y="1180.06" width="46.8" height="11.67" fill="#0062ff"/>
<rect x="1606.8" y="1191.12" width="46.8" height="11.67" fill="#004cff"/>
<rect x="1606.8" y="1202.19" width="46.8" height="11.67" fill="#0036ff"/>
<rect x="1606.8" y="1213.26" width="46.8" height="11.67" fill="#0021ff"/>
<rect x="1606.8" y="1224.33" width="46.8" height="11.67" fill="#000bff"/>
<rect x="1606.8" y="693.2" width="46.8" height="10.9" fill="#8c8c8c"/>
<rect x="1606.8" y="1235.4" width="46.8" height="11.5" fill="#000"/>
<rect x="1606.8" y="693.2" width="46.8" height="553.7" fill="none" stroke="#222" stroke-width="1"/>
<line x1="1606.8" y1="692.7" x2="1606.8" y2="1247.4" stroke="#000" stroke-width="1.8"/>
<line x1="1605.9" y1="693.2" x2="1654.1" y2="693.2" stroke="#111" stroke-width="1.6"/>
<line x1="1653.6" y1="704.0" x2="1663.6" y2="704.0" stroke="#222" stroke-width="1.3"/>
<text x="1670.9" y="710.1" font-size="16.7" font-weight="bold" textLength="43.6" lengthAdjust="spacingAndGlyphs" fill="#000">32.63</text>
<line x1="1653.6" y1="770.4" x2="1663.6" y2="770.4" stroke="#222" stroke-width="1.3"/>
<text x="1670.9" y="776.5" font-size="16.7" font-weight="bold" textLength="43.6" lengthAdjust="spacingAndGlyphs" fill="#000">32.35</text>
<line x1="1653.6" y1="836.9" x2="1663.6" y2="836.9" stroke="#222" stroke-width="1.3"/>
<text x="1670.9" y="843.0" font-size="16.7" font-weight="bold" textLength="43.6" lengthAdjust="spacingAndGlyphs" fill="#000">32.07</text>
<line x1="1653.6" y1="903.3" x2="1663.6" y2="903.3" stroke="#222" stroke-width="1.3"/>
<text x="1670.9" y="909.4" font-size="16.7" font-weight="bold" textLength="43.6" lengthAdjust="spacingAndGlyphs" fill="#000">31.78</text>
<line x1="1653.6" y1="969.7" x2="1663.6" y2="969.7" stroke="#222" stroke-width="1.3"/>
<text x="1670.9" y="975.8" font-size="16.7" font-weight="bold" textLength="43.6" lengthAdjust="spacingAndGlyphs" fill="#000">31.50</text>
<line x1="1653.6" y1="1036.1" x2="1663.6" y2="1036.1" stroke="#222" stroke-width="1.3"/>
<text x="1670.9" y="1042.2" font-size="16.7" font-weight="bold" textLength="43.6" lengthAdjust="spacingAndGlyphs" fill="#000">31.22</text>
<line x1="1653.6" y1="1102.6" x2="1663.6" y2="1102.6" stroke="#222" stroke-width="1.3"/>
<text x="1670.9" y="1108.7" font-size="16.7" font-weight="bold" textLength="43.6" lengthAdjust="spacingAndGlyphs" fill="#000">30.94</text>
<line x1="1653.6" y1="1169.0" x2="1663.6" y2="1169.0" stroke="#222" stroke-width="1.3"/>
<text x="1670.9" y="1175.1" font-size="16.7" font-weight="bold" textLength="43.6" lengthAdjust="spacingAndGlyphs" fill="#000">30.65</text>
<line x1="1653.6" y1="1235.4" x2="1663.6" y2="1235.4" stroke="#222" stroke-width="1.3"/>
<text x="1670.9" y="1241.5" font-size="16.7" font-weight="bold" textLength="43.6" lengthAdjust="spacingAndGlyphs" fill="#000">30.37</text>
<g shape-rendering="crispEdges">
<path d="M89.9,701.3L89.8,705.4L88.2,841.2L88.2,843.9L86.7,981.1L86.6,982.3L85.4,1049.7L85.4,981.1L85.4,841.2L85.4,701.3L89.9,701.3Z" fill="#000bff" stroke="#000bff" stroke-width="0.6" fill-rule="evenodd"/>
<path d="M85.4,1049.7L86.6,982.3L86.7,981.1L88.2,843.9L88.2,841.2L89.8,705.4L89.9,701.3L95.1,701.3L95.0,710.3L93.5,841.2L93.4,848.7L91.9,981.1L91.6,987.0L89.1,1121.1L88.0,1123.5L85.4,1136.9L85.4,1121.1L85.4,1049.7Z" fill="#0020ff" stroke="#0020ff" stroke-width="0.6" fill-rule="evenodd"/>
<path d="M85.4,1136.9L88.0,1123.5L89.1,1121.1L91.6,987.0L91.9,981.1L93.4,848.7L93.5,841.2L95.0,710.3L95.1,701.3L100.3,701.3L100.1,715.1L98.7,841.2L98.5,853.5L97.1,981.1L96.5,991.6L94.2,1121.1L91.6,1126.9L85.4,1158.3L85.4,1136.9Z" fill="#0035ff" stroke="#0035ff" stroke-width="0.6" fill-rule="evenodd"/>
<path d="M85.4,1158.3L91.6,1126.9L94.2,1121.1L96.5,991.6L97.1,981.1L98.5,853.5L98.7,841.2L100.1,715.1L100.3,701.3L105.6,701.3L105.3,720.0L103.9,841.2L103.7,858.4L102.3,981.1L101.5,996.2L99.2,1121.1L95.1,1130.2L85.4,1179.7L85.4,1158.3Z" fill="#004aff" stroke="#004aff" stroke-width="0.6" fill-rule="evenodd"/>
<path d="M85.4,1179.7L95.1,1130.2L99.2,1121.1L101.5,996.2L102.3,981.1L103.7,858.4L103.9,841.2L105.3,720.0L105.6,701.3L110.8,701.3L110.5,724.8L109.1,841.2L108.8,863.2L107.5,981.1L106.4,1000.9L104.2,1121.1L98.6,1133.5L85.4,1201.1L85.4,1179.7Z" fill="#0060ff" stroke="#0060ff" stroke-width="0.6" fill-rule="evenodd"/>
<path d="M85.4,1201.1L98.6,1133.5L104.2,1121.1L106.4,1000.9L107.5,981.1L108.8,863.2L109.1,841.2L110.5,724.8L110.8,701.3L116.0,701.3L115.6,729.7L114.4,841.2L114.0,868.0L112.7,981.1L111.4,1005.5L109.3,1121.1L102.2,1136.8L85.4,1222.5L85.4,1201.1Z" fill="#0075ff" stroke="#0075ff" stroke-width="0.6" fill-rule="evenodd"/>
<path d="M85.4,1222.5L102.2,1136.8L109.3,1121.1L111.4,1005.5L112.7,981.1L114.0,868.0L114.4,841.2L115.6,729.7L116.0,701.3L121.3,701.3L120.8,734.5L119.6,841.2L119.1,872.9L118.0,981.1L116.3,1010.2L114.3,1121.1L105.7,1140.1L85.4,1243.9L85.4,1222.5Z" fill="#008aff" stroke="#008aff" stroke-width="0.6" fill-rule="evenodd"/>
<path d="M85.4,1243.9L105.7,1140.1L114.3,1121.1L116.3,1010.2L118.0,981.1L119.1,872.9L119.6,841.2L120.8,734.5L121.3,701.3L126.5,701.3L126.0,739.4L124.8,841.2L124.3,877.7L123.2,981.1L121.3,1014.8L119.3,1121.1L109.3,1143.5L86.2,1261.0L85.4,1261.0L85.4,1243.9Z" fill="#009fff" stroke="#009fff" stroke-width="0.6" fill-rule="evenodd"/>
<path d="M86.2,1261.0L109.3,1143.5L119.3,1121.1L121.3,1014.8L123.2,981.1L124.3,877.7L124.8,841.2L126.0,739.4L126.5,701.3L131.7,701.3L131.2,744.2L130.0,841.2L129.4,882.5L128.4,981.1L126.2,1019.4L124.4,1121.1L112.8,1146.8L90.4,1261.0L86.2,1261.0Z" fill="#00b5ff" stroke="#00b5ff" stroke-width="0.6" fill-rule="evenodd"/>
<path d="M90.4,1261.0L112.8,1146.8L124.4,1121.1L126.2,1019.4L128.4,981.1L129.4,882.5L130.0,841.2L131.2,744.2L131.7,701.3L137.0,701.3L136.3,749.1L135.3,841.2L134.6,887.4L133.6,981.1L131.2,1024.1L129.4,1121.1L116.4,1150.1L94.6,1261.0L90.4,1261.0Z" fill="#00caff" stroke="#00caff" stroke-width="0.6" fill-rule="evenodd"/>
<path d="M94.6,1261.0L116.4,1150.1L129.4,1121.1L131.2,1024.1L133.6,981.1L134.6,887.4L135.3,841.2L136.3,749.1L137.0,701.3L142.2,701.3L141.5,753.9L140.5,841.2L139.8,892.2L138.8,981.1L136.1,1028.7L134.4,1121.1L119.9,1153.4L98.8,1261.0L94.6,1261.0Z" fill="#00dfff" stroke="#00dfff" stroke-width="0.6" fill-rule="evenodd"/>
<path d="M98.8,1261.0L119.9,1153.4L134.4,1121.1L136.1,1028.7L138.8,981.1L139.8,892.2L140.5,841.2L141.5,753.9L142.2,701.3L147.4,701.3L146.7,758.8L145.7,841.2L144.9,897.0L144.0,981.1L141.1,1033.4L139.5,1121.1L123.4,1156.8L103.0,1261.0L98.8,1261.0Z" fill="#00f4ff" stroke="#00f4ff" stroke-width="0.6" fill-rule="evenodd"/>
<path d="M103.0,1261.0L123.4,1156.8L139.5,1121.1L141.1,1033.4L144.0,981.1L144.9,897.0L145.7,841.2L146.7,758.8L147.4,701.3L152.7,701.3L151.8,763.6L151.0,841.2L150.1,901.9L149.2,981.1L146.0,1038.0L144.5,1121.1L127.0,1160.1L107.2,1261.0L103.0,1261.0Z" fill="#00fff4" stroke="#00fff4" stroke-width="0.6" fill-rule="evenodd"/>
<path d="M107.2,1261.0L127.0,1160.1L144.5,1121.1L146.0,1038.0L149.2,981.1L150.1,901.9L151.0,841.2L151.8,763.6L152.7,701.3L157.9,701.3L157.0,768.5L156.2,841.2L155.2,906.7L154.4,981.1L151.0,1042.6L149.5,1121.1L130.5,1163.4L111.4,1261.0L107.2,1261.0Z" fill="#00ffdf" stroke="#00ffdf" stroke-width="0.6" fill-rule="evenodd"/>
<path d="M111.4,1261.0L130.5,1163.4L149.5,1121.1L151.0,1042.6L154.4,981.1L155.2,906.7L156.2,841.2L157.0,768.5L157.9,701.3L163.2,701.3L162.2,773.3L161.4,841.2L160.4,911.5L159.6,981.1L155.9,1047.3L154.6,1121.1L134.1,1166.7L115.6,1261.0L111.4,1261.0Z" fill="#00ffca" stroke="#00ffca" stroke-width="0.6" fill-rule="evenodd"/>
<path d="M115.6,1261.0L134.1,1166.7L154.6,1121.1L155.9,1047.3L159.6,981.1L160.4,911.5L161.4,841.2L162.2,773.3L163.2,701.3L168.4,701.3L167.4,778.1L166.6,841.2L165.5,916.4L164.8,981.1L160.9,1051.9L159.6,1121.1L137.6,1170.0L119.8,1261.0L115.6,1261.0Z" fill="#00ffb5" stroke="#00ffb5" stroke-width="0.6" fill-rule="evenodd"/>
<path d="M119.8,1261.0L137.6,1170.0L159.6,1121.1L160.9,1051.9L164.8,981.1L165.5,916.4L166.6,841.2L167.4,778.1L168.4,701.3L173.6,701.3L172.5,783.0L171.9,841.2L170.7,921.2L170.0,981.1L165.8,1056.6L164.6,1121.1L141.2,1173.4L124.0,1261.0L119.8,1261.0Z" fill="#00ff9f" stroke="#00ff9f" stroke-width="0.6" fill-rule="evenodd"/>
<path d="M124.0,1261.0L141.2,1173.4L164.6,1121.1L165.8,1056.6L170.0,981.1L170.7,921.2L171.9,841.2L172.5,783.0L173.6,701.3L178.9,701.3L177.7,787.8L177.1,841.2L175.8,926.0L175.2,981.1L170.8,1061.2L169.7,1121.1L144.7,1176.7L128.2,1261.0L124.0,1261.0Z" fill="#00ff8a" stroke="#00ff8a" stroke-width="0.6" fill-rule="evenodd"/>
<path d="M128.2,1261.0L144.7,1176.7L169.7,1121.1L170.8,1061.2L175.2,981.1L175.8,926.0L177.1,841.2L177.7,787.8L178.9,701.3L184.1,701.3L182.9,792.7L182.3,841.2L181.0,930.9L180.5,981.1L175.7,1065.8L174.7,1121.1L148.2,1180.0L132.4,1261.0L128.2,1261.0Z" fill="#00ff75" stroke="#00ff75" stroke-width="0.6" fill-rule="evenodd"/>
<path d="M132.4,1261.0L148.2,1180.0L174.7,1121.1L175.7,1065.8L180.5,981.1L181.0,930.9L182.3,841.2L182.9,792.7L184.1,701.3L189.3,701.3L188.0,797.5L187.5,841.2L186.2,935.7L185.7,981.1L180.7,1070.5L179.7,1121.1L151.8,1183.3L136.6,1261.0L132.4,1261.0Z" fill="#00ff60" stroke="#00ff60" stroke-width="0.6" fill-rule="evenodd"/>
<path d="M136.6,1261.0L151.8,1183.3L179.7,1121.1L180.7,1070.5L185.7,981.1L186.2,935.7L187.5,841.2L188.0,797.5L189.3,701.3L194.6,701.3L193.2,802.4L192.8,841.2L191.3,940.5L190.9,981.1L185.6,1075.1L184.8,1121.1L155.3,1186.7L140.8,1261.0L136.6,1261.0Z" fill="#00ff4a" stroke="#00ff4a" stroke-width="0.6" fill-rule="evenodd"/>
<path d="M140.8,1261.0L155.3,1186.7L184.8,1121.1L185.6,1075.1L190.9,981.1L191.3,940.5L192.8,841.2L193.2,802.4L194.6,701.3L199.8,701.3L198.4,807.2L198.0,841.2L196.5,945.4L196.1,981.1L190.6,1079.8L189.8,1121.1L158.9,1190.0L145.0,1261.0L140.8,1261.0Z" fill="#00ff35" stroke="#00ff35" stroke-width="0.6" fill-rule="evenodd"/>
<path d="M145.0,1261.0L158.9,1190.0L189.8,1121.1L190.6,1079.8L196.1,981.1L196.5,945.4L198.0,841.2L198.4,807.2L199.8,701.3L205.0,701.3L203.5,812.1L203.2,841.2L201.6,950.2L201.3,981.1L195.5,1084.4L194.8,1121.1L162.4,1193.3L149.1,1261.0L145.0,1261.0Z" fill="#00ff20" stroke="#00ff20" stroke-width="0.6" fill-rule="evenodd"/>
<path d="M149.1,1261.0L162.4,1193.3L194.8,1121.1L195.5,1084.4L201.3,981.1L201.6,950.2L203.2,841.2L203.5,812.1L205.0,701.3L210.3,701.3L208.7,816.9L208.4,841.2L206.8,955.0L206.5,981.1L200.5,1089.1L199.9,1121.1L166.0,1196.6L153.3,1261.0L149.1,1261.0Z" fill="#00ff0b" stroke="#00ff0b" stroke-width="0.6" fill-rule="evenodd"/>
<path d="M153.3,1261.0L166.0,1196.6L199.9,1121.1L200.5,1089.1L206.5,981.1L206.8,955.0L208.4,841.2L208.7,816.9L210.3,701.3L215.5,701.3L213.9,821.8L213.7,841.2L211.9,959.9L211.7,981.1L205.4,1093.7L204.9,1121.1L169.5,1199.9L157.5,1261.0L153.3,1261.0Z" fill="#0bff00" stroke="#0bff00" stroke-width="0.6" fill-rule="evenodd"/>
<path d="M157.5,1261.0L169.5,1199.9L204.9,1121.1L205.4,1093.7L211.7,981.1L211.9,959.9L213.7,841.2L213.9,821.8L215.5,701.3L220.7,701.3L219.1,826.6L218.9,841.2L217.1,964.7L216.9,981.1L210.4,1098.3L210.0,1121.1L173.0,1203.3L161.7,1261.0L157.5,1261.0Z" fill="#20ff00" stroke="#20ff00" stroke-width="0.6" fill-rule="evenodd"/>
<path d="M161.7,1261.0L173.0,1203.3L210.0,1121.1L210.4,1098.3L216.9,981.1L217.1,964.7L218.9,841.2L219.1,826.6L220.7,701.3L226.0,701.3L224.2,831.5L224.1,841.2L222.2,969.5L222.1,981.1L215.3,1103.0L215.0,1121.1L176.6,1206.6L165.9,1261.0L161.7,1261.0Z" fill="#35ff00" stroke="#35ff00" stroke-width="0.6" fill-rule="evenodd"/>
<path d="M165.9,1261.0L176.6,1206.6L215.0,1121.1L215.3,1103.0L222.1,981.1L222.2,969.5L224.1,841.2L224.2,831.5L226.0,701.3L231.2,701.3L229.4,836.3L229.3,841.2L227.4,974.4L227.3,981.1L220.3,1107.6L220.0,1121.1L180.1,1209.9L170.1,1261.0L165.9,1261.0Z" fill="#4aff00" stroke="#4aff00" stroke-width="0.6" fill-rule="evenodd"/>
<path d="M170.1,1261.0L180.1,1209.9L220.0,1121.1L220.3,1107.6L227.3,981.1L227.4,974.4L229.3,841.2L229.4,836.3L231.2,701.3L234.6,701.3L255.9,701.3L234.6,837.3L234.6,841.2L234.6,841.2L232.6,979.2L232.5,981.1L225.2,1112.3L225.1,1121.1L183.7,1213.2L174.3,1261.0L170.1,1261.0Z" fill="#60ff00" stroke="#60ff00" stroke-width="0.6" fill-rule="evenodd"/>
<path d="M174.3,1261.0L183.7,1213.2L225.1,1121.1L225.2,1112.3L232.5,981.1L232.6,979.2L234.6,841.2L234.6,841.2L234.6,837.3L255.9,701.3L316.9,701.3L305.6,773.3L295.7,841.2L278.9,938.7L265.0,981.1L255.2,1000.8L234.6,1037.1L230.2,1116.9L230.1,1121.1L187.2,1216.6L178.5,1261.0L174.3,1261.0Z" fill="#75ff00" stroke="#75ff00" stroke-width="0.6" fill-rule="evenodd"/>
<path d="M178.5,1261.0L187.2,1216.6L230.1,1121.1L230.2,1116.9L234.6,1037.1L255.2,1000.8L265.0,981.1L278.9,938.7L295.7,841.2L305.6,773.3L316.9,701.3L377.8,701.3L377.3,704.7L357.4,841.2L352.8,868.1L315.5,981.1L289.4,1033.6L239.9,1121.1L235.5,1121.9L234.6,1122.2L190.8,1219.9L182.7,1261.0L178.5,1261.0Z" fill="#8aff00" stroke="#8aff00" stroke-width="0.6" fill-rule="evenodd"/>
<path d="M182.7,1261.0L190.8,1219.9L234.6,1122.2L235.5,1121.9L239.9,1121.1L289.4,1033.6L315.5,981.1L352.8,868.1L357.4,841.2L377.3,704.7L377.8,701.3L380.9,701.3L524.3,701.3L665.0,701.3L665.0,841.2L665.0,919.0L602.9,919.4L524.3,921.0L469.6,927.8L380.9,936.3L366.1,981.1L323.6,1066.3L292.7,1121.1L244.2,1130.2L234.6,1133.4L194.3,1223.2L186.9,1261.0L182.7,1261.0Z" fill="#9fff00" stroke="#9fff00" stroke-width="0.6" fill-rule="evenodd"/>
<path d="M186.9,1261.0L194.3,1223.2L234.6,1133.4L244.2,1130.2L292.7,1121.1L323.6,1066.3L366.1,981.1L380.9,936.3L469.6,927.8L524.3,921.0L602.9,919.4L665.0,919.0L665.0,981.1L665.0,1042.0L586.5,1043.0L524.3,1044.1L450.2,1048.8L380.9,1052.9L357.9,1099.1L345.4,1121.1L252.8,1138.5L234.6,1144.6L197.8,1226.5L191.1,1261.0L186.9,1261.0Z" fill="#b5ff00" stroke="#b5ff00" stroke-width="0.6" fill-rule="evenodd"/>
<path d="M191.1,1261.0L197.8,1226.5L234.6,1144.6L252.8,1138.5L345.4,1121.1L357.9,1099.1L380.9,1052.9L450.2,1048.8L524.3,1044.1L586.5,1043.0L665.0,1042.0L665.0,1121.1L665.0,1123.2L526.7,1123.5L524.3,1123.5L384.2,1124.3L380.9,1124.3L261.5,1146.8L234.6,1155.8L201.4,1229.8L195.3,1261.0L191.1,1261.0Z" fill="#caff00" stroke="#caff00" stroke-width="0.6" fill-rule="evenodd"/>
<path d="M195.3,1261.0L201.4,1229.8L234.6,1155.8L261.5,1146.8L380.9,1124.3L384.2,1124.3L524.3,1123.5L526.7,1123.5L665.0,1123.2L665.0,1133.1L536.6,1133.3L524.3,1133.3L394.2,1134.0L380.9,1134.3L270.2,1155.1L234.6,1167.0L204.9,1233.2L199.5,1261.0L195.3,1261.0Z" fill="#dfff00" stroke="#dfff00" stroke-width="0.6" fill-rule="evenodd"/>
<path d="M199.5,1261.0L204.9,1233.2L234.6,1167.0L270.2,1155.1L380.9,1134.3L394.2,1134.0L524.3,1133.3L536.6,1133.3L665.0,1133.1L665.0,1142.9L546.5,1143.1L524.3,1143.1L404.2,1143.8L380.9,1144.2L278.9,1163.4L234.6,1178.3L208.5,1236.5L203.7,1261.0L199.5,1261.0Z" fill="#f4ff00" stroke="#f4ff00" stroke-width="0.6" fill-rule="evenodd"/>
<path d="M203.7,1261.0L208.5,1236.5L234.6,1178.3L278.9,1163.4L380.9,1144.2L404.2,1143.8L524.3,1143.1L546.5,1143.1L665.0,1142.9L665.0,1152.8L556.3,1152.9L524.3,1152.9L414.2,1153.6L380.9,1154.1L287.5,1171.7L234.6,1189.5L212.0,1239.8L207.9,1261.0L203.7,1261.0Z" fill="#fff400" stroke="#fff400" stroke-width="0.6" fill-rule="evenodd"/>
<path d="M207.9,1261.0L212.0,1239.8L234.6,1189.5L287.5,1171.7L380.9,1154.1L414.2,1153.6L524.3,1152.9L556.3,1152.9L665.0,1152.8L665.0,1162.6L566.2,1162.8L524.3,1162.8L424.2,1163.3L380.9,1164.1L296.2,1180.0L234.6,1200.7L215.6,1243.1L212.1,1261.0L207.9,1261.0Z" fill="#ffdf00" stroke="#ffdf00" stroke-width="0.6" fill-rule="evenodd"/>
<path d="M212.1,1261.0L215.6,1243.1L234.6,1200.7L296.2,1180.0L380.9,1164.1L424.2,1163.3L524.3,1162.8L566.2,1162.8L665.0,1162.6L665.0,1172.4L576.1,1172.6L524.3,1172.6L434.2,1173.1L380.9,1174.0L304.9,1188.3L234.6,1211.9L219.1,1246.4L216.3,1261.0L212.1,1261.0Z" fill="#ffca00" stroke="#ffca00" stroke-width="0.6" fill-rule="evenodd"/>
<path d="M216.3,1261.0L219.1,1246.4L234.6,1211.9L304.9,1188.3L380.9,1174.0L434.2,1173.1L524.3,1172.6L576.1,1172.6L665.0,1172.4L665.0,1182.3L586.0,1182.4L524.3,1182.4L444.2,1182.9L380.9,1183.9L313.6,1196.6L234.6,1223.1L222.6,1249.8L220.4,1261.0L216.3,1261.0Z" fill="#ffb500" stroke="#ffb500" stroke-width="0.6" fill-rule="evenodd"/>
<path d="M220.4,1261.0L222.6,1249.8L234.6,1223.1L313.6,1196.6L380.9,1183.9L444.2,1182.9L524.3,1182.4L586.0,1182.4L665.0,1182.3L665.0,1192.1L595.9,1192.2L524.3,1192.2L454.2,1192.6L380.9,1193.9L322.2,1204.9L234.6,1234.3L226.2,1253.1L224.6,1261.0L220.4,1261.0Z" fill="#ff9f00" stroke="#ff9f00" stroke-width="0.6" fill-rule="evenodd"/>
<path d="M224.6,1261.0L226.2,1253.1L234.6,1234.3L322.2,1204.9L380.9,1193.9L454.2,1192.6L524.3,1192.2L595.9,1192.2L665.0,1192.1L665.0,1202.0L605.7,1202.1L524.3,1202.1L464.2,1202.4L380.9,1203.8L330.9,1213.2L234.6,1245.5L229.7,1256.4L228.8,1261.0L224.6,1261.0Z" fill="#ff8a00" stroke="#ff8a00" stroke-width="0.6" fill-rule="evenodd"/>
<path d="M228.8,1261.0L229.7,1256.4L234.6,1245.5L330.9,1213.2L380.9,1203.8L464.2,1202.4L524.3,1202.1L605.7,1202.1L665.0,1202.0L665.0,1211.8L615.6,1211.9L524.3,1211.9L474.3,1212.2L380.9,1213.7L339.6,1221.5L234.6,1256.7L233.3,1259.7L233.0,1261.0L228.8,1261.0Z" fill="#ff7500" stroke="#ff7500" stroke-width="0.6" fill-rule="evenodd"/>
<path d="M233.0,1261.0L233.3,1259.7L234.6,1256.7L339.6,1221.5L380.9,1213.7L474.3,1212.2L524.3,1211.9L615.6,1211.9L665.0,1211.8L665.0,1221.6L625.5,1221.7L524.3,1221.7L484.3,1221.9L380.9,1223.7L348.3,1229.8L255.3,1261.0L234.6,1261.0L233.0,1261.0Z" fill="#ff6000" stroke="#ff6000" stroke-width="0.6" fill-rule="evenodd"/>
<path d="M665.0,1231.5L635.4,1231.5L524.3,1231.5L494.3,1231.7L380.9,1233.6L356.9,1238.1L288.7,1261.0L255.3,1261.0L348.3,1229.8L380.9,1223.7L484.3,1221.9L524.3,1221.7L625.5,1221.7L665.0,1221.6L665.0,1231.5Z" fill="#ff4a00" stroke="#ff4a00" stroke-width="0.6" fill-rule="evenodd"/>
<path d="M665.0,1241.3L645.2,1241.4L524.3,1241.4L504.3,1241.5L380.9,1243.5L365.6,1246.4L322.1,1261.0L288.7,1261.0L356.9,1238.1L380.9,1233.6L494.3,1231.7L524.3,1231.5L635.4,1231.5L665.0,1231.5L665.0,1241.3Z" fill="#ff3500" stroke="#ff3500" stroke-width="0.6" fill-rule="evenodd"/>
<path d="M665.0,1251.2L655.1,1251.2L524.3,1251.2L514.3,1251.2L380.9,1253.5L374.3,1254.7L355.5,1261.0L322.1,1261.0L365.6,1246.4L380.9,1243.5L504.3,1241.5L524.3,1241.4L645.2,1241.4L665.0,1241.3L665.0,1251.2Z" fill="#ff2000" stroke="#ff2000" stroke-width="0.6" fill-rule="evenodd"/>
<path d="M355.5,1261.0L374.3,1254.7L380.9,1253.5L514.3,1251.2L524.3,1251.2L655.1,1251.2L665.0,1251.2L665.0,1261.0L524.3,1261.0L380.9,1261.0L355.5,1261.0Z" fill="#ff0b00" stroke="#ff0b00" stroke-width="0.6" fill-rule="evenodd"/>
</g>
<path d="M109.3,1121.1L102.2,1136.8L85.4,1222.5" fill="none" stroke="#2a3030" stroke-width="1.2" stroke-opacity="0.85" stroke-dasharray="5 4"/>
<path d="M116.0,701.3L115.6,729.7L114.4,841.2L114.0,868.0L112.7,981.1L111.4,1005.5L109.3,1121.1" fill="none" stroke="#2a3030" stroke-width="1.2" stroke-opacity="0.85" stroke-dasharray="0.0 28.2 87.3 37.9 59.3 36.2 39.5 8.3 18.0 16.5 23.1 18.1 28.0 2000.0"/>
<path d="M139.5,1121.1L123.4,1156.8L103.0,1261.0" fill="none" stroke="#2a3030" stroke-width="1.2" stroke-opacity="0.85" stroke-dasharray="5 4"/>
<path d="M147.4,701.3L146.7,758.8L145.7,841.2L144.9,897.0L144.0,981.1L141.1,1033.4L139.5,1121.1" fill="none" stroke="#2a3030" stroke-width="1.2" stroke-opacity="0.85" stroke-dasharray="0.0 31.5 26.4 51.0 56.0 28.0 57.7 31.3 14.8 8.2 13.2 11.5 23.1 19.7 28.0 2000.0"/>
<path d="M169.7,1121.1L144.7,1176.7L128.2,1261.0" fill="none" stroke="#2a3030" stroke-width="1.2" stroke-opacity="0.85" stroke-dasharray="5 4"/>
<path d="M178.9,701.3L177.7,787.8L177.1,841.2L175.8,926.0L175.2,981.1L170.8,1061.2L169.7,1121.1" fill="none" stroke="#2a3030" stroke-width="1.2" stroke-opacity="0.85" stroke-dasharray="0.0 0.0 31.5 36.2 72.5 23.1 34.6 23.0 59.3 8.2 39.6 11.5 28.0 6.6 24.6 2000.0"/>
<path d="M199.9,1121.1L166.0,1196.6L153.3,1261.0" fill="none" stroke="#2a3030" stroke-width="1.2" stroke-opacity="0.85" stroke-dasharray="5 4"/>
<path d="M210.3,701.3L208.7,816.9L208.4,841.2L206.8,955.0L206.5,981.1L200.5,1089.1L199.9,1121.1" fill="none" stroke="#2a3030" stroke-width="1.2" stroke-opacity="0.85" stroke-dasharray="0.0 18.3 56.0 33.0 54.3 24.7 62.6 16.5 56.0 9.8 69.2 2000.0"/>
<path d="M230.1,1121.1L187.2,1216.6L178.5,1261.0" fill="none" stroke="#2a3030" stroke-width="1.2" stroke-opacity="0.85" stroke-dasharray="5 4"/>
<path d="M234.6,1037.1L230.2,1116.9L230.1,1121.1" fill="none" stroke="#2a3030" stroke-width="1.2" stroke-opacity="0.85" stroke-dasharray="0 8 21 7 28 7 20 2000"/>
<path d="M316.9,701.3L305.6,773.3L295.7,841.2L278.9,938.7L265.0,981.1L255.2,1000.8L234.6,1037.1" fill="none" stroke="#2a3030" stroke-width="1.2" stroke-opacity="0.85" stroke-dasharray="4.5 3.5"/>
<path d="M380.9,1144.2L278.9,1163.4L234.6,1178.3L208.5,1236.5L203.7,1261.0" fill="none" stroke="#2a3030" stroke-width="1.2" stroke-opacity="0.85" stroke-dasharray="2.5 2.5"/>
<path d="M380.9,1144.2L410.7,1144.1" fill="none" stroke="#2a3030" stroke-width="1.2" stroke-opacity="0.85"/>
<path d="M463.6,1143.8L665.0,1142.9" fill="none" stroke="#2a3030" stroke-width="1.2" stroke-opacity="0.85"/>
<path d="M380.9,1203.8L330.9,1213.2L234.6,1245.5L229.7,1256.4L228.8,1261.0" fill="none" stroke="#2a3030" stroke-width="1.2" stroke-opacity="0.85" stroke-dasharray="2.5 2.5"/>
<path d="M380.9,1203.8L472.4,1203.2" fill="none" stroke="#2a3030" stroke-width="1.2" stroke-opacity="0.85"/>
<path d="M517.0,1202.9L665.0,1202.0" fill="none" stroke="#2a3030" stroke-width="1.2" stroke-opacity="0.85"/>
<rect x="85.4" y="701.3" width="579.6" height="559.7" fill="none" stroke="#000" stroke-width="1.4"/>
<line x1="85.4" y1="700.8" x2="85.4" y2="1261.5" stroke="#000" stroke-width="1.7999999999999998"/>
<line x1="85.4" y1="1261.0" x2="85.4" y2="1270.5" stroke="#000" stroke-width="1.5"/>
<line x1="234.6" y1="1261.0" x2="234.6" y2="1270.5" stroke="#000" stroke-width="1.5"/>
<line x1="380.9" y1="1261.0" x2="380.9" y2="1270.5" stroke="#000" stroke-width="1.5"/>
<line x1="524.3" y1="1261.0" x2="524.3" y2="1270.5" stroke="#000" stroke-width="1.5"/>
<line x1="665.0" y1="1261.0" x2="665.0" y2="1270.5" stroke="#000" stroke-width="1.5"/>
<line x1="160.4" y1="1261.0" x2="160.4" y2="1265.5" stroke="#000" stroke-width="1.5"/>
<line x1="308.1" y1="1261.0" x2="308.1" y2="1265.5" stroke="#000" stroke-width="1.5"/>
<line x1="452.9" y1="1261.0" x2="452.9" y2="1265.5" stroke="#000" stroke-width="1.5"/>
<line x1="595.0" y1="1261.0" x2="595.0" y2="1265.5" stroke="#000" stroke-width="1.5"/>
<line x1="74.9" y1="1261.0" x2="85.4" y2="1261.0" stroke="#000" stroke-width="1.5"/>
<line x1="74.9" y1="1121.1" x2="85.4" y2="1121.1" stroke="#000" stroke-width="1.5"/>
<line x1="74.9" y1="981.1" x2="85.4" y2="981.1" stroke="#000" stroke-width="1.5"/>
<line x1="74.9" y1="841.2" x2="85.4" y2="841.2" stroke="#000" stroke-width="1.5"/>
<line x1="74.9" y1="701.3" x2="85.4" y2="701.3" stroke="#000" stroke-width="1.5"/>
<line x1="79.9" y1="1191.0" x2="85.4" y2="1191.0" stroke="#000" stroke-width="1.5"/>
<line x1="79.9" y1="1051.1" x2="85.4" y2="1051.1" stroke="#000" stroke-width="1.5"/>
<line x1="79.9" y1="911.2" x2="85.4" y2="911.2" stroke="#000" stroke-width="1.5"/>
<line x1="79.9" y1="771.3" x2="85.4" y2="771.3" stroke="#000" stroke-width="1.5"/>
<text x="69.7" y="1298.0" font-size="22" font-weight="bold" textLength="31.5" lengthAdjust="spacingAndGlyphs" fill="#000">4.9</text>
<text x="228.3" y="1298.0" font-size="22" font-weight="bold" textLength="12.6" lengthAdjust="spacingAndGlyphs" fill="#000">5</text>
<text x="365.1" y="1298.0" font-size="22" font-weight="bold" textLength="31.5" lengthAdjust="spacingAndGlyphs" fill="#000">5.1</text>
<text x="508.6" y="1298.0" font-size="22" font-weight="bold" textLength="31.5" lengthAdjust="spacingAndGlyphs" fill="#000">5.2</text>
<text x="649.2" y="1298.0" font-size="22" font-weight="bold" textLength="31.5" lengthAdjust="spacingAndGlyphs" fill="#000">5.3</text>
<text x="34.9" y="1268.6" font-size="22" font-weight="bold" textLength="32.3" lengthAdjust="spacingAndGlyphs" fill="#000">4.5</text>
<text x="34.9" y="1128.7" font-size="22" font-weight="bold" textLength="32.3" lengthAdjust="spacingAndGlyphs" fill="#000">4.6</text>
<text x="34.9" y="988.8" font-size="22" font-weight="bold" textLength="32.3" lengthAdjust="spacingAndGlyphs" fill="#000">4.7</text>
<text x="34.9" y="848.8" font-size="22" font-weight="bold" textLength="32.3" lengthAdjust="spacingAndGlyphs" fill="#000">4.8</text>
<text x="34.9" y="708.9" font-size="22" font-weight="bold" textLength="32.3" lengthAdjust="spacingAndGlyphs" fill="#000">4.9</text>
<text x="161.0" y="1329.0" font-size="23" font-weight="bold" textLength="428.0" lengthAdjust="spacingAndGlyphs" fill="#000">Work function of Back Contact(eV)</text>
<text transform="translate(20.6,1202.7) rotate(-90)" font-size="27" font-weight="bold" textLength="442.7" lengthAdjust="spacingAndGlyphs">Work Function of Front Contact(eV)</text>
<text x="141.0" y="730.5" font-size="22" font-weight="bold" textLength="36.0" lengthAdjust="spacingAndGlyphs" fill="#000">(b)</text>
<text x="632.0" y="680.8" font-size="26.4" font-weight="bold" textLength="153.0" lengthAdjust="spacingAndGlyphs" fill="#000">Jsc(mA/cm</text>
<text x="786.0" y="668.8" font-size="16.5" font-weight="bold" textLength="11.0" lengthAdjust="spacingAndGlyphs" fill="#000">2</text>
<text x="797.0" y="680.8" font-size="26.4" font-weight="bold" textLength="9.0" lengthAdjust="spacingAndGlyphs" fill="#000">)</text>
<rect x="694.6" y="712.40" width="48.2" height="11.82" fill="#ff0000"/>
<rect x="694.6" y="723.62" width="48.2" height="11.82" fill="#ff0b00"/>
<rect x="694.6" y="734.84" width="48.2" height="11.82" fill="#ff2100"/>
<rect x="694.6" y="746.06" width="48.2" height="11.82" fill="#ff3600"/>
<rect x="694.6" y="757.28" width="48.2" height="11.82" fill="#ff4c00"/>
<rect x="694.6" y="768.50" width="48.2" height="11.82" fill="#ff6200"/>
<rect x="694.6" y="779.73" width="48.2" height="11.82" fill="#ff7700"/>
<rect x="694.6" y="790.95" width="48.2" height="11.82" fill="#ff8d00"/>
<rect x="694.6" y="802.17" width="48.2" height="11.82" fill="#ffa300"/>
<rect x="694.6" y="813.39" width="48.2" height="11.82" fill="#ffb800"/>
<rect x="694.6" y="824.61" width="48.2" height="11.82" fill="#ffce00"/>
<rect x="694.6" y="835.83" width="48.2" height="11.82" fill="#ffe400"/>
<rect x="694.6" y="847.05" width="48.2" height="11.82" fill="#fffa00"/>
<rect x="694.6" y="858.27" width="48.2" height="11.82" fill="#efff00"/>
<rect x="694.6" y="869.49" width="48.2" height="11.82" fill="#d9ff00"/>
<rect x="694.6" y="880.71" width="48.2" height="11.82" fill="#c3ff00"/>
<rect x="694.6" y="891.93" width="48.2" height="11.82" fill="#aeff00"/>
<rect x="694.6" y="903.15" width="48.2" height="11.82" fill="#98ff00"/>
<rect x="694.6" y="914.38" width="48.2" height="11.82" fill="#82ff00"/>
<rect x="694.6" y="925.60" width="48.2" height="11.82" fill="#6dff00"/>
<rect x="694.6" y="936.82" width="48.2" height="11.82" fill="#57ff00"/>
<rect x="694.6" y="948.04" width="48.2" height="11.82" fill="#41ff00"/>
<rect x="694.6" y="959.26" width="48.2" height="11.82" fill="#2bff00"/>
<rect x="694.6" y="970.48" width="48.2" height="11.82" fill="#16ff00"/>
<rect x="694.6" y="981.70" width="48.2" height="11.82" fill="#00ff00"/>
<rect x="694.6" y="992.92" width="48.2" height="11.82" fill="#00ff16"/>
<rect x="694.6" y="1004.14" width="48.2" height="11.82" fill="#00ff2b"/>
<rect x="694.6" y="1015.36" width="48.2" height="11.82" fill="#00ff41"/>
<rect x="694.6" y="1026.58" width="48.2" height="11.82" fill="#00ff57"/>
<rect x="694.6" y="1037.80" width="48.2" height="11.82" fill="#00ff6d"/>
<rect x="694.6" y="1049.03" width="48.2" height="11.82" fill="#00ff82"/>
<rect x="694.6" y="1060.25" width="48.2" height="11.82" fill="#00ff98"/>
<rect x="694.6" y="1071.47" width="48.2" height="11.82" fill="#00ffae"/>
<rect x="694.6" y="1082.69" width="48.2" height="11.82" fill="#00ffc3"/>
<rect x="694.6" y="1093.91" width="48.2" height="11.82" fill="#00ffd9"/>
<rect x="694.6" y="1105.13" width="48.2" height="11.82" fill="#00ffef"/>
<rect x="694.6" y="1116.35" width="48.2" height="11.82" fill="#00faff"/>
<rect x="694.6" y="1127.57" width="48.2" height="11.82" fill="#00e4ff"/>
<rect x="694.6" y="1138.79" width="48.2" height="11.82" fill="#00ceff"/>
<rect x="694.6" y="1150.01" width="48.2" height="11.82" fill="#00b8ff"/>
<rect x="694.6" y="1161.23" width="48.2" height="11.82" fill="#00a3ff"/>
<rect x="694.6" y="1172.45" width="48.2" height="11.82" fill="#008dff"/>
<rect x="694.6" y="1183.67" width="48.2" height="11.82" fill="#0077ff"/>
<rect x="694.6" y="1194.90" width="48.2" height="11.82" fill="#0062ff"/>
<rect x="694.6" y="1206.12" width="48.2" height="11.82" fill="#004cff"/>
<rect x="694.6" y="1217.34" width="48.2" height="11.82" fill="#0036ff"/>
<rect x="694.6" y="1228.56" width="48.2" height="11.82" fill="#0021ff"/>
<rect x="694.6" y="1239.78" width="48.2" height="11.82" fill="#000bff"/>
<rect x="694.6" y="701.2" width="48.2" height="11.2" fill="#8c8c8c"/>
<rect x="694.6" y="1251.0" width="48.2" height="10.0" fill="#000"/>
<rect x="694.6" y="701.2" width="48.2" height="559.8" fill="none" stroke="#222" stroke-width="1"/>
<line x1="694.6" y1="700.7" x2="694.6" y2="1261.5" stroke="#000" stroke-width="1.8"/>
<line x1="693.7" y1="701.2" x2="743.3" y2="701.2" stroke="#111" stroke-width="1.6"/>
<line x1="742.8" y1="712.4" x2="752.8" y2="712.4" stroke="#222" stroke-width="1.3"/>
<text x="761.0" y="718.7" font-size="16.5" font-weight="bold" textLength="66.0" lengthAdjust="spacingAndGlyphs" fill="#000">33.8961</text>
<line x1="742.8" y1="779.7" x2="752.8" y2="779.7" stroke="#222" stroke-width="1.3"/>
<text x="761.0" y="786.0" font-size="16.5" font-weight="bold" textLength="66.0" lengthAdjust="spacingAndGlyphs" fill="#000">33.8960</text>
<line x1="742.8" y1="847.0" x2="752.8" y2="847.0" stroke="#222" stroke-width="1.3"/>
<text x="761.0" y="853.3" font-size="16.5" font-weight="bold" textLength="66.0" lengthAdjust="spacingAndGlyphs" fill="#000">33.8959</text>
<line x1="742.8" y1="914.4" x2="752.8" y2="914.4" stroke="#222" stroke-width="1.3"/>
<text x="761.0" y="920.7" font-size="16.5" font-weight="bold" textLength="66.0" lengthAdjust="spacingAndGlyphs" fill="#000">33.8958</text>
<line x1="742.8" y1="981.7" x2="752.8" y2="981.7" stroke="#222" stroke-width="1.3"/>
<text x="761.0" y="988.0" font-size="16.5" font-weight="bold" textLength="66.0" lengthAdjust="spacingAndGlyphs" fill="#000">33.8957</text>
<line x1="742.8" y1="1049.0" x2="752.8" y2="1049.0" stroke="#222" stroke-width="1.3"/>
<text x="761.0" y="1055.3" font-size="16.5" font-weight="bold" textLength="66.0" lengthAdjust="spacingAndGlyphs" fill="#000">33.8956</text>
<line x1="742.8" y1="1116.3" x2="752.8" y2="1116.3" stroke="#222" stroke-width="1.3"/>
<text x="761.0" y="1122.6" font-size="16.5" font-weight="bold" textLength="66.0" lengthAdjust="spacingAndGlyphs" fill="#000">33.8955</text>
<line x1="742.8" y1="1183.7" x2="752.8" y2="1183.7" stroke="#222" stroke-width="1.3"/>
<text x="761.0" y="1190.0" font-size="16.5" font-weight="bold" textLength="66.0" lengthAdjust="spacingAndGlyphs" fill="#000">33.8954</text>
<line x1="742.8" y1="1251.0" x2="752.8" y2="1251.0" stroke="#222" stroke-width="1.3"/>
<text x="761.0" y="1257.3" font-size="16.5" font-weight="bold" textLength="66.0" lengthAdjust="spacingAndGlyphs" fill="#000">33.8953</text>
</svg></body></html>
